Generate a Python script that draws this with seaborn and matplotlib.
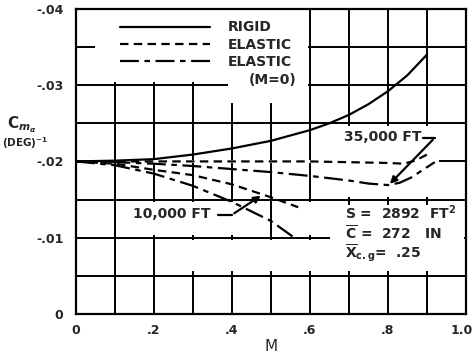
import pandas as pd
import seaborn as sns
import matplotlib.pyplot as plt
from matplotlib.lines import Line2D
from matplotlib.patches import Rectangle

# values (Cm_alpha per deg vs Mach)
rigid_m = [0, 0.1, 0.2, 0.3, 0.4, 0.5, 0.6, 0.65, 0.7, 0.75, 0.8, 0.85, 0.9]
rigid_cm = [-0.0200, -0.0201, -0.0203, -0.0209, -0.0217, -0.0227, -0.0241,
            -0.0250, -0.0261, -0.0275, -0.0292, -0.0313, -0.0340]

el35_m = [0, 0.2, 0.4, 0.6, 0.7, 0.8, 0.84, 0.87, 0.9]
el35_cm = [-0.0200, -0.0200, -0.0200, -0.0200, -0.0199, -0.0198, -0.0197, -0.0201, -0.0209]

el35m0_m = [0, 0.1, 0.2, 0.3, 0.4, 0.5, 0.6, 0.7, 0.75, 0.8, 0.83, 0.86, 0.89, 0.92]
el35m0_cm = [-0.0200, -0.0199, -0.0197, -0.0194, -0.0190, -0.0186, -0.0181, -0.0175,
             -0.0171, -0.0169, -0.0172, -0.0179, -0.0189, -0.0199]

el10_m = [0, 0.1, 0.2, 0.3, 0.4, 0.5, 0.57]
el10_cm = [-0.0200, -0.0197, -0.0189, -0.0182, -0.0170, -0.0153, -0.0140]

el10m0_m = [0, 0.1, 0.2, 0.3, 0.4, 0.5, 0.56]
el10m0_cm = [-0.0200, -0.0195, -0.0184, -0.0168, -0.0147, -0.0122, -0.0100]

x_ticks = [0, 0.2, 0.4, 0.6, 0.8, 1.0]
x_labels = ["0", ".2", ".4", ".6", ".8", "1.0"]
x_minor = [0.1, 0.3, 0.5, 0.7, 0.9]
y_ticks = [0, -0.01, -0.02, -0.03, -0.04]
y_labels = ["0", "-.01", "-.02", "-.03", "-.04"]
y_minor = [-0.005, -0.015, -0.025, -0.035]

rows = []
for curve, kind, ms, cs in [
    ("rigid", "RIGID", rigid_m, rigid_cm),
    ("el35", "ELASTIC", el35_m, el35_cm),
    ("el35m0", "ELASTIC (M=0)", el35m0_m, el35m0_cm),
    ("el10", "ELASTIC", el10_m, el10_cm),
    ("el10m0", "ELASTIC (M=0)", el10m0_m, el10m0_cm),
]:
    for m, c in zip(ms, cs):
        rows.append({"curve": curve, "kind": kind, "M": m, "Cm": c})
df = pd.DataFrame(rows)

sns.set_style("white")
plt.rcParams["font.family"] = ["DejaVu Sans"]
plt.rcParams["font.weight"] = "bold"

fig = plt.figure(figsize=(4.74, 3.54), dpi=100)
ax = fig.add_axes([0.160, 0.113, 0.823, 0.862])

dashes = {"RIGID": "", "ELASTIC": (3.8, 2.4), "ELASTIC (M=0)": (8.5, 2.5, 2.5, 2.5)}
sns.lineplot(data=df, x="M", y="Cm", units="curve", style="kind", dashes=dashes,
             estimator=None, sort=False, color="black", lw=1.6, legend=False, ax=ax)

ax.set_xlim(0, 1.0)
ax.set_ylim(0, -0.04)
# last x label is drawn by hand so it stays inside the figure
ax.set_xticks(x_ticks, x_labels[:-1] + [""])
ax.set_xticks(x_minor, minor=True)
ax.set_yticks(y_ticks, y_labels)
ax.set_yticks(y_minor, minor=True)
ax.tick_params(which="both", length=0, labelsize=9)
ax.tick_params(axis="y", pad=9)
ax.tick_params(axis="x", pad=7)
ax.set_axisbelow(True)
ax.grid(which="both", color="black", lw=1.4)
for s in ax.spines.values():
    s.set_color("black")
    s.set_linewidth(1.6)
ax.set_xlabel("M", fontsize=11, labelpad=2)
ax.set_ylabel("")
ax.annotate(x_labels[-1], xy=(x_ticks[-1], 0), xycoords=ax.get_xaxis_transform(),
            xytext=(5, -7), textcoords="offset points", ha="right", va="top", fontsize=9)

# blank patches of the graph paper behind labels
blanks = [
    (0.05, -0.0304, 0.546, -0.0095),
    (0.39, -0.0276, 0.206, -0.0029),
    (0.003, -0.0198, 0.927, -0.0004),
    (0.606, -0.0153, 0.390, -0.0093),
    (0.652, -0.0057, 0.344, -0.0086),
    (0.25, -0.0056, 0.40, -0.0041),
    (0.15, -0.0103, 0.30, -0.0044),
    (0.55, -0.0103, 0.10, -0.0044),
]
for x0, y0, w, h in blanks:
    ax.add_patch(Rectangle((x0, y0), w, h, facecolor="white", edgecolor="none", zorder=1.5))
ax.hlines(-0.02, 0.93, 1.0, color="black", lw=1.4, zorder=1.6)

handles = [
    Line2D([], [], color="black", lw=1.6),
    Line2D([], [], color="black", lw=1.6, dashes=dashes["ELASTIC"]),
    Line2D([], [], color="black", lw=1.6, dashes=dashes["ELASTIC (M=0)"]),
]
ax.legend(handles, ["RIGID", "ELASTIC", "ELASTIC"], loc="upper left",
          bbox_to_anchor=(0.095, 0.985), frameon=False, handlelength=6.5,
          handletextpad=1.3, labelspacing=0.25, borderpad=0, prop={"size": 10, "weight": "bold"})
ax.text(0.505, -0.0307, "(M=0)", ha="center", va="center", fontsize=10, zorder=3)

# altitude labels with leaders
ax.text(0.885, -0.0232, "35,000 FT", ha="right", va="center", fontsize=10, zorder=3)
ax.plot([0.89, 0.92], [-0.0231, -0.0231], color="black", lw=1.6, zorder=3)
ax.annotate("", xy=(0.80, -0.0168), xytext=(0.92, -0.0231),
            arrowprops=dict(arrowstyle="-|>", color="black", lw=1.6), zorder=3)
ax.text(0.345, -0.0131, "10,000 FT", ha="right", va="center", fontsize=10, zorder=3)
ax.plot([0.365, 0.40], [-0.0130, -0.0130], color="black", lw=1.6, zorder=3)
ax.annotate("", xy=(0.48, -0.0157), xytext=(0.40, -0.0130),
            arrowprops=dict(arrowstyle="-|>", color="black", lw=1.6), zorder=3)

ax.text(0.69, -0.0133, "S =  2892  FT$^2$", ha="left", va="center", fontsize=10, zorder=3)
ax.text(0.69, -0.0106, r"$\overline{\mathrm{C}}$ =  272   IN", ha="left", va="center", fontsize=10, zorder=3)
ax.text(0.69, -0.0080, r"$\overline{\mathrm{X}}_{\mathrm{c.g}}$=  .25", ha="left", va="center", fontsize=10, zorder=3)

fig.text(0.046, 0.647, r"C$_{m_\alpha}$", ha="center", va="center", fontsize=11)
fig.text(0.053, 0.596, r"(DEG)$^{-1}$", ha="center", va="center", fontsize=7.5)

fig.savefig("out.png", dpi=100)
